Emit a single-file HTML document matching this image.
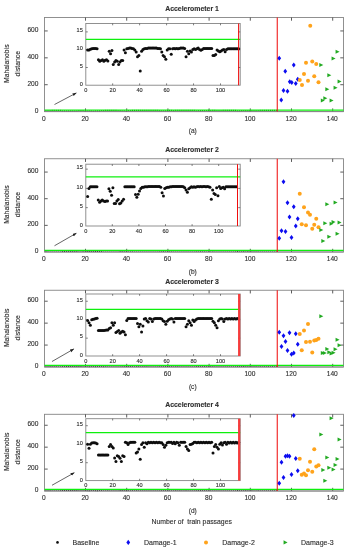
<!DOCTYPE html>
<html lang="en"><head><meta charset="utf-8"><title>Mahalanobis distance per accelerometer</title>
<style>html,body{margin:0;padding:0;background:#fff;}body{width:348px;height:550px;overflow:hidden;}svg{display:block;}text{font-family:"Liberation Sans", sans-serif;fill:#2e2e2e;stroke:#2e2e2e;stroke-width:0.12px;}</style></head><body>
<svg width="348" height="550" viewBox="0 0 348 550">
<defs><marker id="ah" markerWidth="6" markerHeight="6" refX="3.7" refY="1.5" orient="auto" markerUnits="userSpaceOnUse"><path d="M0 0L4.2 1.5L0 3Z" fill="#222"/></marker></defs>
<rect width="348" height="550" fill="#fff"/>
<filter id="soft" x="0" y="0" width="348" height="550" filterUnits="userSpaceOnUse"><feGaussianBlur stdDeviation="0.5"/></filter>
<g filter="url(#soft)">
<g id="row1">
<text x="192" y="11.25" font-size="6.9" font-weight="bold" text-anchor="middle" fill="#111" stroke="none">Accelerometer 1</text>
<rect x="44.5" y="17.5" width="299" height="94.1" fill="#fff" stroke="#858585" stroke-width="0.9"/>
<text x="38.4" y="112.6" font-size="6.6" text-anchor="end">0</text>
<path d="M44.5 84.71h3.2M343.5 84.71h-3.2" stroke="#4a4a4a" stroke-width="0.9"/>
<text x="38.4" y="85.71" font-size="6.6" text-anchor="end">200</text>
<path d="M44.5 57.83h3.2M343.5 57.83h-3.2" stroke="#4a4a4a" stroke-width="0.9"/>
<text x="38.4" y="58.83" font-size="6.6" text-anchor="end">400</text>
<path d="M44.5 30.94h3.2M343.5 30.94h-3.2" stroke="#4a4a4a" stroke-width="0.9"/>
<text x="38.4" y="31.94" font-size="6.6" text-anchor="end">600</text>
<text x="43.9" y="120.5" font-size="6.6" text-anchor="middle">0</text>
<path d="M85.5 17.5v3.2M85.5 111.6v-3.2" stroke="#4a4a4a" stroke-width="0.9"/>
<text x="85.1" y="120.5" font-size="6.6" text-anchor="middle">20</text>
<path d="M126.7 17.5v3.2M126.7 111.6v-3.2" stroke="#4a4a4a" stroke-width="0.9"/>
<text x="126.3" y="120.5" font-size="6.6" text-anchor="middle">40</text>
<path d="M167.9 17.5v3.2M167.9 111.6v-3.2" stroke="#4a4a4a" stroke-width="0.9"/>
<text x="167.5" y="120.5" font-size="6.6" text-anchor="middle">60</text>
<path d="M209.1 17.5v3.2M209.1 111.6v-3.2" stroke="#4a4a4a" stroke-width="0.9"/>
<text x="208.7" y="120.5" font-size="6.6" text-anchor="middle">80</text>
<path d="M250.3 17.5v3.2M250.3 111.6v-3.2" stroke="#4a4a4a" stroke-width="0.9"/>
<text x="249.9" y="120.5" font-size="6.6" text-anchor="middle">100</text>
<path d="M291.5 17.5v3.2M291.5 111.6v-3.2" stroke="#4a4a4a" stroke-width="0.9"/>
<text x="291.1" y="120.5" font-size="6.6" text-anchor="middle">120</text>
<path d="M332.7 17.5v3.2M332.7 111.6v-3.2" stroke="#4a4a4a" stroke-width="0.9"/>
<text x="332.3" y="120.5" font-size="6.6" text-anchor="middle">140</text>
<text transform="translate(9.3 63.75) rotate(-90)" font-size="6.8" text-anchor="middle">Mahalanobis</text>
<text transform="translate(20.2 63.75) rotate(-90)" font-size="6.8" text-anchor="middle">distance</text>
<g fill="#111">
<circle cx="45.96" cy="110.51" r="0.6"/>
<circle cx="48.02" cy="110.51" r="0.6"/>
<circle cx="50.08" cy="110.49" r="0.6"/>
<circle cx="52.14" cy="110.47" r="0.6"/>
<circle cx="54.2" cy="110.46" r="0.6"/>
<circle cx="56.26" cy="110.46" r="0.6"/>
<circle cx="58.32" cy="110.46" r="0.6"/>
<circle cx="60.38" cy="110.47" r="0.6"/>
<circle cx="62.44" cy="110.89" r="0.6"/>
<circle cx="64.5" cy="110.94" r="0.6"/>
<circle cx="66.56" cy="110.92" r="0.6"/>
<circle cx="68.62" cy="110.89" r="0.6"/>
<circle cx="70.68" cy="110.94" r="0.6"/>
<circle cx="72.74" cy="110.9" r="0.6"/>
<circle cx="74.8" cy="110.89" r="0.6"/>
<circle cx="76.86" cy="110.93" r="0.6"/>
<circle cx="78.92" cy="110.57" r="0.6"/>
<circle cx="80.98" cy="110.66" r="0.6"/>
<circle cx="83.04" cy="110.54" r="0.6"/>
<circle cx="85.1" cy="111.06" r="0.6"/>
<circle cx="87.16" cy="110.97" r="0.6"/>
<circle cx="89.22" cy="110.92" r="0.6"/>
<circle cx="91.28" cy="110.94" r="0.6"/>
<circle cx="93.34" cy="111.06" r="0.6"/>
<circle cx="95.4" cy="110.97" r="0.6"/>
<circle cx="97.46" cy="110.92" r="0.6"/>
<circle cx="99.52" cy="110.92" r="0.6"/>
<circle cx="101.58" cy="110.51" r="0.6"/>
<circle cx="103.64" cy="110.62" r="0.6"/>
<circle cx="105.7" cy="110.47" r="0.6"/>
<circle cx="107.76" cy="110.46" r="0.6"/>
<circle cx="109.82" cy="110.45" r="0.6"/>
<circle cx="111.88" cy="110.45" r="0.6"/>
<circle cx="113.94" cy="110.46" r="0.6"/>
<circle cx="116" cy="110.47" r="0.6"/>
<circle cx="118.06" cy="110.51" r="0.6"/>
<circle cx="120.12" cy="110.59" r="0.6"/>
<circle cx="122.18" cy="110.77" r="0.6"/>
<circle cx="124.24" cy="110.73" r="0.6"/>
<circle cx="126.3" cy="111.31" r="0.6"/>
<circle cx="128.36" cy="110.57" r="0.6"/>
<circle cx="130.42" cy="110.5" r="0.6"/>
<circle cx="132.48" cy="110.47" r="0.6"/>
<circle cx="134.54" cy="110.46" r="0.6"/>
<circle cx="136.6" cy="110.46" r="0.6"/>
<circle cx="138.66" cy="110.45" r="0.6"/>
<circle cx="140.72" cy="110.45" r="0.6"/>
<circle cx="142.78" cy="110.45" r="0.6"/>
<circle cx="144.84" cy="110.45" r="0.6"/>
<circle cx="146.9" cy="110.45" r="0.6"/>
<circle cx="148.96" cy="110.45" r="0.6"/>
<circle cx="151.02" cy="110.45" r="0.6"/>
<circle cx="153.08" cy="110.46" r="0.6"/>
<circle cx="155.14" cy="110.46" r="0.6"/>
<circle cx="157.2" cy="110.47" r="0.6"/>
<circle cx="159.26" cy="110.59" r="0.6"/>
<circle cx="161.32" cy="110.73" r="0.6"/>
<circle cx="163.38" cy="110.77" r="0.6"/>
<circle cx="165.44" cy="110.86" r="0.6"/>
<circle cx="167.5" cy="110.51" r="0.6"/>
<circle cx="169.56" cy="110.47" r="0.6"/>
<circle cx="171.62" cy="110.47" r="0.6"/>
<circle cx="173.68" cy="110.67" r="0.6"/>
<circle cx="175.74" cy="110.47" r="0.6"/>
<circle cx="177.8" cy="110.46" r="0.6"/>
<circle cx="179.86" cy="110.47" r="0.6"/>
<circle cx="181.92" cy="110.46" r="0.6"/>
<circle cx="183.98" cy="110.47" r="0.6"/>
<circle cx="186.04" cy="110.46" r="0.6"/>
<circle cx="188.1" cy="110.45" r="0.6"/>
<circle cx="190.16" cy="110.45" r="0.6"/>
<circle cx="192.22" cy="110.45" r="0.6"/>
<circle cx="194.28" cy="110.46" r="0.6"/>
<circle cx="196.34" cy="110.77" r="0.6"/>
<circle cx="198.4" cy="110.57" r="0.6"/>
<circle cx="200.46" cy="110.66" r="0.6"/>
<circle cx="202.52" cy="110.55" r="0.6"/>
<circle cx="204.58" cy="110.59" r="0.6"/>
<circle cx="206.64" cy="110.5" r="0.6"/>
<circle cx="208.7" cy="110.47" r="0.6"/>
<circle cx="210.76" cy="110.5" r="0.6"/>
<circle cx="212.82" cy="110.47" r="0.6"/>
<circle cx="214.88" cy="110.45" r="0.6"/>
<circle cx="216.94" cy="110.5" r="0.6"/>
<circle cx="219" cy="110.53" r="0.6"/>
<circle cx="221.06" cy="110.5" r="0.6"/>
<circle cx="223.12" cy="110.46" r="0.6"/>
<circle cx="225.18" cy="110.46" r="0.6"/>
<circle cx="227.24" cy="110.46" r="0.6"/>
<circle cx="229.3" cy="110.46" r="0.6"/>
<circle cx="231.36" cy="110.46" r="0.6"/>
<circle cx="233.42" cy="110.46" r="0.6"/>
<circle cx="235.48" cy="110.46" r="0.6"/>
<circle cx="237.54" cy="110.73" r="0.6"/>
<circle cx="239.6" cy="110.73" r="0.6"/>
<circle cx="241.66" cy="110.69" r="0.6"/>
<circle cx="243.72" cy="110.51" r="0.6"/>
<circle cx="245.78" cy="110.55" r="0.6"/>
<circle cx="247.84" cy="110.58" r="0.6"/>
<circle cx="249.9" cy="110.55" r="0.6"/>
<circle cx="251.96" cy="110.51" r="0.6"/>
<circle cx="254.02" cy="110.5" r="0.6"/>
<circle cx="256.08" cy="110.58" r="0.6"/>
<circle cx="258.14" cy="110.5" r="0.6"/>
<circle cx="260.2" cy="110.47" r="0.6"/>
<circle cx="262.26" cy="110.47" r="0.6"/>
<circle cx="264.32" cy="110.47" r="0.6"/>
<circle cx="266.38" cy="110.47" r="0.6"/>
<circle cx="268.44" cy="110.47" r="0.6"/>
<circle cx="270.5" cy="110.47" r="0.6"/>
<circle cx="272.56" cy="110.47" r="0.6"/>
<circle cx="274.62" cy="110.47" r="0.6"/>
<circle cx="276.68" cy="110.47" r="0.6"/>
</g>
<path d="M44.5 110.05H343.5" stroke="#10f010" stroke-width="1.25"/>
<path d="M44.5 111.6H343.5" stroke="#858585" stroke-width="0.9"/>
<path d="M277.25 17.5V111.6" stroke="#f01010" stroke-width="1.05"/>
<path d="M279.25 55.65L281.15 58.25L279.25 60.85L277.35 58.25Z" fill="#0a0af0"/>
<path d="M285.25 68.65L287.15 71.25L285.25 73.85L283.35 71.25Z" fill="#0a0af0"/>
<path d="M293.75 62.4L295.65 65L293.75 67.6L291.85 65Z" fill="#0a0af0"/>
<path d="M289.75 79.15L291.65 81.75L289.75 84.35L287.85 81.75Z" fill="#0a0af0"/>
<path d="M291.75 79.9L293.65 82.5L291.75 85.1L289.85 82.5Z" fill="#0a0af0"/>
<path d="M295.75 80.9L297.65 83.5L295.75 86.1L293.85 83.5Z" fill="#0a0af0"/>
<path d="M297.75 76.65L299.65 79.25L297.75 81.85L295.85 79.25Z" fill="#0a0af0"/>
<path d="M283.5 87.9L285.4 90.5L283.5 93.1L281.6 90.5Z" fill="#0a0af0"/>
<path d="M287.5 88.65L289.4 91.25L287.5 93.85L285.6 91.25Z" fill="#0a0af0"/>
<path d="M281.25 97.4L283.15 100L281.25 102.6L279.35 100Z" fill="#0a0af0"/>
<circle cx="310.25" cy="25.75" r="2.0" fill="#ffa31a"/>
<circle cx="306" cy="62.75" r="2.0" fill="#ffa31a"/>
<circle cx="312.25" cy="61.5" r="2.0" fill="#ffa31a"/>
<circle cx="316.25" cy="64" r="2.0" fill="#ffa31a"/>
<circle cx="304" cy="74" r="2.0" fill="#ffa31a"/>
<circle cx="314.25" cy="76.25" r="2.0" fill="#ffa31a"/>
<circle cx="299.75" cy="80" r="2.0" fill="#ffa31a"/>
<circle cx="308" cy="80.75" r="2.0" fill="#ffa31a"/>
<circle cx="302" cy="85" r="2.0" fill="#ffa31a"/>
<circle cx="318.5" cy="82.25" r="2.0" fill="#ffa31a"/>
<path d="M335.55 49.65L339.55 51.75L335.55 53.85Z" fill="#22aa22"/>
<path d="M331.55 56.4L335.55 58.5L331.55 60.6Z" fill="#22aa22"/>
<path d="M319.3 62.9L323.3 65L319.3 67.1Z" fill="#22aa22"/>
<path d="M327.3 73.15L331.3 75.25L327.3 77.35Z" fill="#22aa22"/>
<path d="M337.55 79.4L341.55 81.5L337.55 83.6Z" fill="#22aa22"/>
<path d="M325.3 87.15L329.3 89.25L325.3 91.35Z" fill="#22aa22"/>
<path d="M333.55 85.65L337.55 87.75L333.55 89.85Z" fill="#22aa22"/>
<path d="M323.3 96.15L327.3 98.25L323.3 100.35Z" fill="#22aa22"/>
<path d="M320.8 98.4L324.8 100.5L320.8 102.6Z" fill="#22aa22"/>
<path d="M329.55 98.4L333.55 100.5L329.55 102.6Z" fill="#22aa22"/>
<path d="M54.5 104.5L76.25 93" stroke="#222" stroke-width="0.7" marker-end="url(#ah)"/>
<rect x="85.8" y="23.5" width="154.4" height="61.7" fill="#fff" stroke="#858585" stroke-width="0.9"/>
<text x="82.8" y="85.6" font-size="5.6" text-anchor="end">0</text>
<path d="M85.8 67.5h2M240.2 67.5h-2" stroke="#4a4a4a" stroke-width="0.7"/>
<text x="82.8" y="67.8" font-size="5.6" text-anchor="end">5</text>
<path d="M85.8 49.7h2M240.2 49.7h-2" stroke="#4a4a4a" stroke-width="0.7"/>
<text x="82.8" y="50" font-size="5.6" text-anchor="end">10</text>
<path d="M85.8 31.9h2M240.2 31.9h-2" stroke="#4a4a4a" stroke-width="0.7"/>
<text x="82.8" y="32.2" font-size="5.6" text-anchor="end">15</text>
<text x="85.7" y="91.7" font-size="5.6" text-anchor="middle">0</text>
<path d="M112.66 23.5v1.8M112.66 85.2v-1.8" stroke="#4a4a4a" stroke-width="0.7"/>
<text x="112.66" y="91.7" font-size="5.6" text-anchor="middle">20</text>
<path d="M139.62 23.5v1.8M139.62 85.2v-1.8" stroke="#4a4a4a" stroke-width="0.7"/>
<text x="139.62" y="91.7" font-size="5.6" text-anchor="middle">40</text>
<path d="M166.58 23.5v1.8M166.58 85.2v-1.8" stroke="#4a4a4a" stroke-width="0.7"/>
<text x="166.58" y="91.7" font-size="5.6" text-anchor="middle">60</text>
<path d="M193.54 23.5v1.8M193.54 85.2v-1.8" stroke="#4a4a4a" stroke-width="0.7"/>
<text x="193.54" y="91.7" font-size="5.6" text-anchor="middle">80</text>
<path d="M220.5 23.5v1.8M220.5 85.2v-1.8" stroke="#4a4a4a" stroke-width="0.7"/>
<text x="220.5" y="91.7" font-size="5.6" text-anchor="middle">100</text>
<path d="M85.8 39.3H240.2" stroke="#10f010" stroke-width="1.3"/>
<g fill="#111">
<circle cx="87.65" cy="49.88" r="1.5"/>
<circle cx="89" cy="49.88" r="1.5"/>
<circle cx="90.35" cy="49.17" r="1.5"/>
<circle cx="91.7" cy="48.81" r="1.5"/>
<circle cx="93.05" cy="48.45" r="1.5"/>
<circle cx="94.39" cy="48.45" r="1.5"/>
<circle cx="95.74" cy="48.45" r="1.5"/>
<circle cx="97.09" cy="48.81" r="1.5"/>
<circle cx="98.44" cy="59.85" r="1.5"/>
<circle cx="99.79" cy="61.27" r="1.5"/>
<circle cx="101.13" cy="60.56" r="1.5"/>
<circle cx="102.48" cy="59.85" r="1.5"/>
<circle cx="103.83" cy="61.27" r="1.5"/>
<circle cx="105.18" cy="60.2" r="1.5"/>
<circle cx="106.53" cy="59.85" r="1.5"/>
<circle cx="107.87" cy="60.91" r="1.5"/>
<circle cx="109.22" cy="51.3" r="1.5"/>
<circle cx="110.57" cy="53.79" r="1.5"/>
<circle cx="111.92" cy="50.59" r="1.5"/>
<circle cx="113.27" cy="64.47" r="1.5"/>
<circle cx="114.61" cy="61.98" r="1.5"/>
<circle cx="115.96" cy="60.56" r="1.5"/>
<circle cx="117.31" cy="61.27" r="1.5"/>
<circle cx="118.66" cy="64.47" r="1.5"/>
<circle cx="120.01" cy="61.98" r="1.5"/>
<circle cx="121.35" cy="60.56" r="1.5"/>
<circle cx="122.7" cy="60.56" r="1.5"/>
<circle cx="124.05" cy="49.88" r="1.5"/>
<circle cx="125.4" cy="52.73" r="1.5"/>
<circle cx="126.75" cy="48.81" r="1.5"/>
<circle cx="128.09" cy="48.45" r="1.5"/>
<circle cx="129.44" cy="48.1" r="1.5"/>
<circle cx="130.79" cy="48.1" r="1.5"/>
<circle cx="132.14" cy="48.45" r="1.5"/>
<circle cx="133.49" cy="48.81" r="1.5"/>
<circle cx="134.83" cy="49.88" r="1.5"/>
<circle cx="136.18" cy="52.01" r="1.5"/>
<circle cx="137.53" cy="56.64" r="1.5"/>
<circle cx="138.88" cy="55.57" r="1.5"/>
<circle cx="140.23" cy="70.88" r="1.5"/>
<circle cx="141.57" cy="51.3" r="1.5"/>
<circle cx="142.92" cy="49.52" r="1.5"/>
<circle cx="144.27" cy="48.81" r="1.5"/>
<circle cx="145.62" cy="48.45" r="1.5"/>
<circle cx="146.97" cy="48.45" r="1.5"/>
<circle cx="148.31" cy="48.1" r="1.5"/>
<circle cx="149.66" cy="48.1" r="1.5"/>
<circle cx="151.01" cy="48.1" r="1.5"/>
<circle cx="152.36" cy="48.1" r="1.5"/>
<circle cx="153.71" cy="48.1" r="1.5"/>
<circle cx="155.05" cy="48.1" r="1.5"/>
<circle cx="156.4" cy="48.1" r="1.5"/>
<circle cx="157.75" cy="48.45" r="1.5"/>
<circle cx="159.1" cy="48.45" r="1.5"/>
<circle cx="160.45" cy="48.81" r="1.5"/>
<circle cx="161.79" cy="52.01" r="1.5"/>
<circle cx="163.14" cy="55.57" r="1.5"/>
<circle cx="164.49" cy="56.64" r="1.5"/>
<circle cx="165.84" cy="59.13" r="1.5"/>
<circle cx="167.19" cy="49.88" r="1.5"/>
<circle cx="168.53" cy="48.81" r="1.5"/>
<circle cx="169.88" cy="48.81" r="1.5"/>
<circle cx="171.23" cy="54.15" r="1.5"/>
<circle cx="172.58" cy="48.81" r="1.5"/>
<circle cx="173.93" cy="48.45" r="1.5"/>
<circle cx="175.27" cy="48.81" r="1.5"/>
<circle cx="176.62" cy="48.45" r="1.5"/>
<circle cx="177.97" cy="48.81" r="1.5"/>
<circle cx="179.32" cy="48.45" r="1.5"/>
<circle cx="180.67" cy="48.1" r="1.5"/>
<circle cx="182.01" cy="48.1" r="1.5"/>
<circle cx="183.36" cy="48.1" r="1.5"/>
<circle cx="184.71" cy="48.45" r="1.5"/>
<circle cx="186.06" cy="56.64" r="1.5"/>
<circle cx="187.41" cy="51.3" r="1.5"/>
<circle cx="188.75" cy="53.79" r="1.5"/>
<circle cx="190.1" cy="50.95" r="1.5"/>
<circle cx="191.45" cy="52.01" r="1.5"/>
<circle cx="192.8" cy="49.52" r="1.5"/>
<circle cx="194.15" cy="48.81" r="1.5"/>
<circle cx="195.49" cy="49.52" r="1.5"/>
<circle cx="196.84" cy="48.81" r="1.5"/>
<circle cx="198.19" cy="48.1" r="1.5"/>
<circle cx="199.54" cy="49.52" r="1.5"/>
<circle cx="200.89" cy="50.23" r="1.5"/>
<circle cx="202.23" cy="49.52" r="1.5"/>
<circle cx="203.58" cy="48.45" r="1.5"/>
<circle cx="204.93" cy="48.45" r="1.5"/>
<circle cx="206.28" cy="48.45" r="1.5"/>
<circle cx="207.63" cy="48.45" r="1.5"/>
<circle cx="208.97" cy="48.45" r="1.5"/>
<circle cx="210.32" cy="48.45" r="1.5"/>
<circle cx="211.67" cy="48.45" r="1.5"/>
<circle cx="213.02" cy="55.57" r="1.5"/>
<circle cx="214.37" cy="55.57" r="1.5"/>
<circle cx="215.71" cy="54.51" r="1.5"/>
<circle cx="217.06" cy="49.88" r="1.5"/>
<circle cx="218.41" cy="50.95" r="1.5"/>
<circle cx="219.76" cy="51.66" r="1.5"/>
<circle cx="221.11" cy="50.95" r="1.5"/>
<circle cx="222.45" cy="49.88" r="1.5"/>
<circle cx="223.8" cy="49.52" r="1.5"/>
<circle cx="225.15" cy="51.66" r="1.5"/>
<circle cx="226.5" cy="49.52" r="1.5"/>
<circle cx="227.85" cy="48.81" r="1.5"/>
<circle cx="229.19" cy="48.81" r="1.5"/>
<circle cx="230.54" cy="48.81" r="1.5"/>
<circle cx="231.89" cy="48.81" r="1.5"/>
<circle cx="233.24" cy="48.81" r="1.5"/>
<circle cx="234.59" cy="48.81" r="1.5"/>
<circle cx="235.93" cy="48.81" r="1.5"/>
<circle cx="237.28" cy="48.81" r="1.5"/>
<circle cx="238.63" cy="48.81" r="1.5"/>
</g>
<path d="M238.6 23.5V85.2" stroke="#f01010" stroke-width="1.05"/>
<text x="192.75" y="133.05" font-size="6.6" text-anchor="middle">(a)</text>
</g>
<g id="row2">
<text x="192" y="151.5" font-size="6.9" font-weight="bold" text-anchor="middle" fill="#111" stroke="none">Accelerometer 2</text>
<rect x="44.5" y="158.75" width="299" height="93.25" fill="#fff" stroke="#858585" stroke-width="0.9"/>
<text x="38.4" y="253" font-size="6.6" text-anchor="end">0</text>
<path d="M44.5 225.36h3.2M343.5 225.36h-3.2" stroke="#4a4a4a" stroke-width="0.9"/>
<text x="38.4" y="226.36" font-size="6.6" text-anchor="end">200</text>
<path d="M44.5 198.71h3.2M343.5 198.71h-3.2" stroke="#4a4a4a" stroke-width="0.9"/>
<text x="38.4" y="199.71" font-size="6.6" text-anchor="end">400</text>
<path d="M44.5 172.07h3.2M343.5 172.07h-3.2" stroke="#4a4a4a" stroke-width="0.9"/>
<text x="38.4" y="173.07" font-size="6.6" text-anchor="end">600</text>
<text x="43.9" y="260.9" font-size="6.6" text-anchor="middle">0</text>
<path d="M85.5 158.75v3.2M85.5 252v-3.2" stroke="#4a4a4a" stroke-width="0.9"/>
<text x="85.1" y="260.9" font-size="6.6" text-anchor="middle">20</text>
<path d="M126.7 158.75v3.2M126.7 252v-3.2" stroke="#4a4a4a" stroke-width="0.9"/>
<text x="126.3" y="260.9" font-size="6.6" text-anchor="middle">40</text>
<path d="M167.9 158.75v3.2M167.9 252v-3.2" stroke="#4a4a4a" stroke-width="0.9"/>
<text x="167.5" y="260.9" font-size="6.6" text-anchor="middle">60</text>
<path d="M209.1 158.75v3.2M209.1 252v-3.2" stroke="#4a4a4a" stroke-width="0.9"/>
<text x="208.7" y="260.9" font-size="6.6" text-anchor="middle">80</text>
<path d="M250.3 158.75v3.2M250.3 252v-3.2" stroke="#4a4a4a" stroke-width="0.9"/>
<text x="249.9" y="260.9" font-size="6.6" text-anchor="middle">100</text>
<path d="M291.5 158.75v3.2M291.5 252v-3.2" stroke="#4a4a4a" stroke-width="0.9"/>
<text x="291.1" y="260.9" font-size="6.6" text-anchor="middle">120</text>
<path d="M332.7 158.75v3.2M332.7 252v-3.2" stroke="#4a4a4a" stroke-width="0.9"/>
<text x="332.3" y="260.9" font-size="6.6" text-anchor="middle">140</text>
<text transform="translate(9.3 204.57) rotate(-90)" font-size="6.8" text-anchor="middle">Mahalanobis</text>
<text transform="translate(20.2 204.57) rotate(-90)" font-size="6.8" text-anchor="middle">distance</text>
<g fill="#111">
<circle cx="45.96" cy="251.2" r="0.6"/>
<circle cx="48.02" cy="250.92" r="0.6"/>
<circle cx="50.08" cy="250.86" r="0.6"/>
<circle cx="52.14" cy="250.86" r="0.6"/>
<circle cx="54.2" cy="250.86" r="0.6"/>
<circle cx="56.26" cy="250.86" r="0.6"/>
<circle cx="58.32" cy="250.86" r="0.6"/>
<circle cx="60.38" cy="250.86" r="0.6"/>
<circle cx="62.44" cy="251.32" r="0.6"/>
<circle cx="64.5" cy="251.4" r="0.6"/>
<circle cx="66.56" cy="251.36" r="0.6"/>
<circle cx="68.62" cy="251.32" r="0.6"/>
<circle cx="70.68" cy="251.36" r="0.6"/>
<circle cx="72.74" cy="251.37" r="0.6"/>
<circle cx="74.8" cy="251.36" r="0.6"/>
<circle cx="76.86" cy="251.36" r="0.6"/>
<circle cx="78.92" cy="250.93" r="0.6"/>
<circle cx="80.98" cy="251.02" r="0.6"/>
<circle cx="83.04" cy="251.16" r="0.6"/>
<circle cx="85.1" cy="250.89" r="0.6"/>
<circle cx="87.16" cy="251.44" r="0.6"/>
<circle cx="89.22" cy="251.44" r="0.6"/>
<circle cx="91.28" cy="251.35" r="0.6"/>
<circle cx="93.34" cy="251.3" r="0.6"/>
<circle cx="95.4" cy="251.45" r="0.6"/>
<circle cx="97.46" cy="251.42" r="0.6"/>
<circle cx="99.52" cy="251.35" r="0.6"/>
<circle cx="101.58" cy="251.29" r="0.6"/>
<circle cx="103.64" cy="250.86" r="0.6"/>
<circle cx="105.7" cy="250.86" r="0.6"/>
<circle cx="107.76" cy="250.86" r="0.6"/>
<circle cx="109.82" cy="250.86" r="0.6"/>
<circle cx="111.88" cy="250.86" r="0.6"/>
<circle cx="113.94" cy="250.86" r="0.6"/>
<circle cx="116" cy="250.86" r="0.6"/>
<circle cx="118.06" cy="250.86" r="0.6"/>
<circle cx="120.12" cy="251.13" r="0.6"/>
<circle cx="122.18" cy="251.22" r="0.6"/>
<circle cx="124.24" cy="251.12" r="0.6"/>
<circle cx="126.3" cy="251.01" r="0.6"/>
<circle cx="128.36" cy="250.92" r="0.6"/>
<circle cx="130.42" cy="250.88" r="0.6"/>
<circle cx="132.48" cy="250.88" r="0.6"/>
<circle cx="134.54" cy="250.86" r="0.6"/>
<circle cx="136.6" cy="250.86" r="0.6"/>
<circle cx="138.66" cy="250.86" r="0.6"/>
<circle cx="140.72" cy="250.85" r="0.6"/>
<circle cx="142.78" cy="250.85" r="0.6"/>
<circle cx="144.84" cy="250.85" r="0.6"/>
<circle cx="146.9" cy="250.85" r="0.6"/>
<circle cx="148.96" cy="250.85" r="0.6"/>
<circle cx="151.02" cy="250.85" r="0.6"/>
<circle cx="153.08" cy="250.85" r="0.6"/>
<circle cx="155.14" cy="250.85" r="0.6"/>
<circle cx="157.2" cy="250.85" r="0.6"/>
<circle cx="159.26" cy="250.88" r="0.6"/>
<circle cx="161.32" cy="251.06" r="0.6"/>
<circle cx="163.38" cy="251.18" r="0.6"/>
<circle cx="165.44" cy="250.92" r="0.6"/>
<circle cx="167.5" cy="250.89" r="0.6"/>
<circle cx="169.56" cy="250.88" r="0.6"/>
<circle cx="171.62" cy="250.88" r="0.6"/>
<circle cx="173.68" cy="250.86" r="0.6"/>
<circle cx="175.74" cy="250.86" r="0.6"/>
<circle cx="177.8" cy="250.85" r="0.6"/>
<circle cx="179.86" cy="250.85" r="0.6"/>
<circle cx="181.92" cy="250.85" r="0.6"/>
<circle cx="183.98" cy="250.85" r="0.6"/>
<circle cx="186.04" cy="250.85" r="0.6"/>
<circle cx="188.1" cy="250.85" r="0.6"/>
<circle cx="190.16" cy="250.85" r="0.6"/>
<circle cx="192.22" cy="250.85" r="0.6"/>
<circle cx="194.28" cy="250.86" r="0.6"/>
<circle cx="196.34" cy="250.89" r="0.6"/>
<circle cx="198.4" cy="250.97" r="0.6"/>
<circle cx="200.46" cy="251.05" r="0.6"/>
<circle cx="202.52" cy="250.93" r="0.6"/>
<circle cx="204.58" cy="250.89" r="0.6"/>
<circle cx="206.64" cy="250.86" r="0.6"/>
<circle cx="208.7" cy="250.88" r="0.6"/>
<circle cx="210.76" cy="250.86" r="0.6"/>
<circle cx="212.82" cy="250.88" r="0.6"/>
<circle cx="214.88" cy="250.86" r="0.6"/>
<circle cx="216.94" cy="250.85" r="0.6"/>
<circle cx="219" cy="250.86" r="0.6"/>
<circle cx="221.06" cy="250.85" r="0.6"/>
<circle cx="223.12" cy="250.86" r="0.6"/>
<circle cx="225.18" cy="250.85" r="0.6"/>
<circle cx="227.24" cy="250.85" r="0.6"/>
<circle cx="229.3" cy="250.86" r="0.6"/>
<circle cx="231.36" cy="250.85" r="0.6"/>
<circle cx="233.42" cy="250.86" r="0.6"/>
<circle cx="235.48" cy="250.88" r="0.6"/>
<circle cx="237.54" cy="251.29" r="0.6"/>
<circle cx="239.6" cy="250.97" r="0.6"/>
<circle cx="241.66" cy="251.09" r="0.6"/>
<circle cx="243.72" cy="251.13" r="0.6"/>
<circle cx="245.78" cy="250.89" r="0.6"/>
<circle cx="247.84" cy="251.17" r="0.6"/>
<circle cx="249.9" cy="250.85" r="0.6"/>
<circle cx="251.96" cy="250.92" r="0.6"/>
<circle cx="254.02" cy="250.89" r="0.6"/>
<circle cx="256.08" cy="250.88" r="0.6"/>
<circle cx="258.14" cy="250.93" r="0.6"/>
<circle cx="260.2" cy="250.86" r="0.6"/>
<circle cx="262.26" cy="250.86" r="0.6"/>
<circle cx="264.32" cy="250.86" r="0.6"/>
<circle cx="266.38" cy="250.86" r="0.6"/>
<circle cx="268.44" cy="250.86" r="0.6"/>
<circle cx="270.5" cy="250.86" r="0.6"/>
<circle cx="272.56" cy="250.86" r="0.6"/>
<circle cx="274.62" cy="250.86" r="0.6"/>
<circle cx="276.68" cy="250.86" r="0.6"/>
</g>
<path d="M44.5 250.45H343.5" stroke="#10f010" stroke-width="1.25"/>
<path d="M44.5 252H343.5" stroke="#858585" stroke-width="0.9"/>
<path d="M277.25 158.75V252" stroke="#f01010" stroke-width="1.05"/>
<path d="M279.25 235.65L281.15 238.25L279.25 240.85L277.35 238.25Z" fill="#0a0af0"/>
<path d="M281.5 228.15L283.4 230.75L281.5 233.35L279.6 230.75Z" fill="#0a0af0"/>
<path d="M283.5 179.15L285.4 181.75L283.5 184.35L281.6 181.75Z" fill="#0a0af0"/>
<path d="M285.5 228.9L287.4 231.5L285.5 234.1L283.6 231.5Z" fill="#0a0af0"/>
<path d="M287.5 200.15L289.4 202.75L287.5 205.35L285.6 202.75Z" fill="#0a0af0"/>
<path d="M289.5 214.4L291.4 217L289.5 219.6L287.6 217Z" fill="#0a0af0"/>
<path d="M291.5 234.9L293.4 237.5L291.5 240.1L289.6 237.5Z" fill="#0a0af0"/>
<path d="M293.75 204.15L295.65 206.75L293.75 209.35L291.85 206.75Z" fill="#0a0af0"/>
<path d="M295.75 223.4L297.65 226L295.75 228.6L293.85 226Z" fill="#0a0af0"/>
<path d="M297.75 216.15L299.65 218.75L297.75 221.35L295.85 218.75Z" fill="#0a0af0"/>
<circle cx="299.75" cy="193.75" r="2.0" fill="#ffa31a"/>
<circle cx="301.75" cy="224.25" r="2.0" fill="#ffa31a"/>
<circle cx="304" cy="207.25" r="2.0" fill="#ffa31a"/>
<circle cx="306" cy="225.25" r="2.0" fill="#ffa31a"/>
<circle cx="308" cy="212.5" r="2.0" fill="#ffa31a"/>
<circle cx="310" cy="214.75" r="2.0" fill="#ffa31a"/>
<circle cx="312.25" cy="228.75" r="2.0" fill="#ffa31a"/>
<circle cx="314.25" cy="224.75" r="2.0" fill="#ffa31a"/>
<circle cx="316.25" cy="218.75" r="2.0" fill="#ffa31a"/>
<circle cx="318.5" cy="227.25" r="2.0" fill="#ffa31a"/>
<path d="M319.3 227.9L323.3 230L319.3 232.1Z" fill="#22aa22"/>
<path d="M321.3 238.9L325.3 241L321.3 243.1Z" fill="#22aa22"/>
<path d="M323.3 221.15L327.3 223.25L323.3 225.35Z" fill="#22aa22"/>
<path d="M325.3 202.15L329.3 204.25L325.3 206.35Z" fill="#22aa22"/>
<path d="M327.3 234.65L331.3 236.75L327.3 238.85Z" fill="#22aa22"/>
<path d="M329.55 221.65L333.55 223.75L329.55 225.85Z" fill="#22aa22"/>
<path d="M331.55 219.9L335.55 222L331.55 224.1Z" fill="#22aa22"/>
<path d="M333.55 200.4L337.55 202.5L333.55 204.6Z" fill="#22aa22"/>
<path d="M335.55 231.65L339.55 233.75L335.55 235.85Z" fill="#22aa22"/>
<path d="M337.55 220.4L341.55 222.5L337.55 224.6Z" fill="#22aa22"/>
<path d="M54.5 245.75L76.25 233.25" stroke="#222" stroke-width="0.7" marker-end="url(#ah)"/>
<rect x="85.8" y="164.2" width="154.4" height="61.8" fill="#fff" stroke="#858585" stroke-width="0.9"/>
<text x="82.8" y="227.2" font-size="5.6" text-anchor="end">0</text>
<path d="M85.8 207.65h2M240.2 207.65h-2" stroke="#4a4a4a" stroke-width="0.7"/>
<text x="82.8" y="207.95" font-size="5.6" text-anchor="end">5</text>
<path d="M85.8 188.4h2M240.2 188.4h-2" stroke="#4a4a4a" stroke-width="0.7"/>
<text x="82.8" y="188.7" font-size="5.6" text-anchor="end">10</text>
<path d="M85.8 169.15h2M240.2 169.15h-2" stroke="#4a4a4a" stroke-width="0.7"/>
<text x="82.8" y="169.45" font-size="5.6" text-anchor="end">15</text>
<text x="85.7" y="232.5" font-size="5.6" text-anchor="middle">0</text>
<path d="M112.3 164.2v1.8M112.3 226v-1.8" stroke="#4a4a4a" stroke-width="0.7"/>
<text x="112.3" y="232.5" font-size="5.6" text-anchor="middle">20</text>
<path d="M138.9 164.2v1.8M138.9 226v-1.8" stroke="#4a4a4a" stroke-width="0.7"/>
<text x="138.9" y="232.5" font-size="5.6" text-anchor="middle">40</text>
<path d="M165.5 164.2v1.8M165.5 226v-1.8" stroke="#4a4a4a" stroke-width="0.7"/>
<text x="165.5" y="232.5" font-size="5.6" text-anchor="middle">60</text>
<path d="M192.1 164.2v1.8M192.1 226v-1.8" stroke="#4a4a4a" stroke-width="0.7"/>
<text x="192.1" y="232.5" font-size="5.6" text-anchor="middle">80</text>
<path d="M218.7 164.2v1.8M218.7 226v-1.8" stroke="#4a4a4a" stroke-width="0.7"/>
<text x="218.7" y="232.5" font-size="5.6" text-anchor="middle">100</text>
<path d="M85.8 176.9H240.2" stroke="#10f010" stroke-width="1.3"/>
<g fill="#111">
<circle cx="87.63" cy="196.49" r="1.5"/>
<circle cx="88.96" cy="188.4" r="1.5"/>
<circle cx="90.29" cy="186.86" r="1.5"/>
<circle cx="91.62" cy="186.86" r="1.5"/>
<circle cx="92.95" cy="186.86" r="1.5"/>
<circle cx="94.28" cy="186.86" r="1.5"/>
<circle cx="95.61" cy="186.86" r="1.5"/>
<circle cx="96.94" cy="186.86" r="1.5"/>
<circle cx="98.27" cy="199.95" r="1.5"/>
<circle cx="99.6" cy="202.26" r="1.5"/>
<circle cx="100.93" cy="201.11" r="1.5"/>
<circle cx="102.26" cy="199.95" r="1.5"/>
<circle cx="103.59" cy="201.11" r="1.5"/>
<circle cx="104.92" cy="201.49" r="1.5"/>
<circle cx="106.25" cy="201.11" r="1.5"/>
<circle cx="107.58" cy="201.11" r="1.5"/>
<circle cx="108.91" cy="188.78" r="1.5"/>
<circle cx="110.24" cy="191.29" r="1.5"/>
<circle cx="111.57" cy="195.33" r="1.5"/>
<circle cx="112.9" cy="187.63" r="1.5"/>
<circle cx="114.23" cy="203.42" r="1.5"/>
<circle cx="115.56" cy="203.42" r="1.5"/>
<circle cx="116.89" cy="200.91" r="1.5"/>
<circle cx="118.22" cy="199.56" r="1.5"/>
<circle cx="119.55" cy="203.8" r="1.5"/>
<circle cx="120.88" cy="203.03" r="1.5"/>
<circle cx="122.21" cy="200.91" r="1.5"/>
<circle cx="123.54" cy="199.18" r="1.5"/>
<circle cx="124.87" cy="186.86" r="1.5"/>
<circle cx="126.2" cy="186.86" r="1.5"/>
<circle cx="127.53" cy="186.86" r="1.5"/>
<circle cx="128.86" cy="186.86" r="1.5"/>
<circle cx="130.19" cy="186.86" r="1.5"/>
<circle cx="131.52" cy="186.86" r="1.5"/>
<circle cx="132.85" cy="186.86" r="1.5"/>
<circle cx="134.18" cy="186.86" r="1.5"/>
<circle cx="135.51" cy="194.56" r="1.5"/>
<circle cx="136.84" cy="197.25" r="1.5"/>
<circle cx="138.17" cy="194.18" r="1.5"/>
<circle cx="139.5" cy="191.09" r="1.5"/>
<circle cx="140.83" cy="188.4" r="1.5"/>
<circle cx="142.16" cy="187.25" r="1.5"/>
<circle cx="143.49" cy="187.25" r="1.5"/>
<circle cx="144.82" cy="186.86" r="1.5"/>
<circle cx="146.15" cy="186.86" r="1.5"/>
<circle cx="147.48" cy="186.86" r="1.5"/>
<circle cx="148.81" cy="186.47" r="1.5"/>
<circle cx="150.14" cy="186.47" r="1.5"/>
<circle cx="151.47" cy="186.47" r="1.5"/>
<circle cx="152.8" cy="186.47" r="1.5"/>
<circle cx="154.13" cy="186.47" r="1.5"/>
<circle cx="155.46" cy="186.47" r="1.5"/>
<circle cx="156.79" cy="186.47" r="1.5"/>
<circle cx="158.12" cy="186.47" r="1.5"/>
<circle cx="159.45" cy="186.47" r="1.5"/>
<circle cx="160.78" cy="187.25" r="1.5"/>
<circle cx="162.11" cy="192.63" r="1.5"/>
<circle cx="163.44" cy="196.1" r="1.5"/>
<circle cx="164.77" cy="188.4" r="1.5"/>
<circle cx="166.1" cy="187.63" r="1.5"/>
<circle cx="167.43" cy="187.25" r="1.5"/>
<circle cx="168.76" cy="187.25" r="1.5"/>
<circle cx="170.09" cy="186.86" r="1.5"/>
<circle cx="171.42" cy="186.86" r="1.5"/>
<circle cx="172.75" cy="186.47" r="1.5"/>
<circle cx="174.08" cy="186.47" r="1.5"/>
<circle cx="175.41" cy="186.47" r="1.5"/>
<circle cx="176.74" cy="186.47" r="1.5"/>
<circle cx="178.07" cy="186.47" r="1.5"/>
<circle cx="179.4" cy="186.47" r="1.5"/>
<circle cx="180.73" cy="186.47" r="1.5"/>
<circle cx="182.06" cy="186.47" r="1.5"/>
<circle cx="183.39" cy="186.86" r="1.5"/>
<circle cx="184.72" cy="187.63" r="1.5"/>
<circle cx="186.05" cy="189.94" r="1.5"/>
<circle cx="187.38" cy="192.25" r="1.5"/>
<circle cx="188.71" cy="188.78" r="1.5"/>
<circle cx="190.04" cy="187.63" r="1.5"/>
<circle cx="191.37" cy="186.86" r="1.5"/>
<circle cx="192.7" cy="187.25" r="1.5"/>
<circle cx="194.03" cy="186.86" r="1.5"/>
<circle cx="195.36" cy="187.25" r="1.5"/>
<circle cx="196.69" cy="186.86" r="1.5"/>
<circle cx="198.02" cy="186.47" r="1.5"/>
<circle cx="199.35" cy="186.86" r="1.5"/>
<circle cx="200.68" cy="186.47" r="1.5"/>
<circle cx="202.01" cy="186.86" r="1.5"/>
<circle cx="203.34" cy="186.47" r="1.5"/>
<circle cx="204.67" cy="186.47" r="1.5"/>
<circle cx="206" cy="186.86" r="1.5"/>
<circle cx="207.33" cy="186.47" r="1.5"/>
<circle cx="208.66" cy="186.86" r="1.5"/>
<circle cx="209.99" cy="187.25" r="1.5"/>
<circle cx="211.32" cy="199.18" r="1.5"/>
<circle cx="212.65" cy="189.94" r="1.5"/>
<circle cx="213.98" cy="193.41" r="1.5"/>
<circle cx="215.31" cy="194.56" r="1.5"/>
<circle cx="216.64" cy="187.63" r="1.5"/>
<circle cx="217.97" cy="195.72" r="1.5"/>
<circle cx="219.3" cy="186.47" r="1.5"/>
<circle cx="220.63" cy="188.4" r="1.5"/>
<circle cx="221.96" cy="187.63" r="1.5"/>
<circle cx="223.29" cy="187.25" r="1.5"/>
<circle cx="224.62" cy="188.78" r="1.5"/>
<circle cx="225.95" cy="186.86" r="1.5"/>
<circle cx="227.28" cy="186.86" r="1.5"/>
<circle cx="228.61" cy="186.86" r="1.5"/>
<circle cx="229.94" cy="186.86" r="1.5"/>
<circle cx="231.27" cy="186.86" r="1.5"/>
<circle cx="232.6" cy="186.86" r="1.5"/>
<circle cx="233.93" cy="186.86" r="1.5"/>
<circle cx="235.26" cy="186.86" r="1.5"/>
<circle cx="236.59" cy="186.86" r="1.5"/>
</g>
<path d="M237.5 164.2V226" stroke="#f01010" stroke-width="1.05"/>
<text x="192.75" y="273.8" font-size="6.6" text-anchor="middle">(b)</text>
</g>
<g id="row3">
<text x="192" y="283.5" font-size="6.9" font-weight="bold" text-anchor="middle" fill="#111" stroke="none">Accelerometer 3</text>
<rect x="44.5" y="290.25" width="299" height="76.75" fill="#fff" stroke="#858585" stroke-width="0.9"/>
<text x="38.4" y="368" font-size="6.6" text-anchor="end">0</text>
<path d="M44.5 345.07h3.2M343.5 345.07h-3.2" stroke="#4a4a4a" stroke-width="0.9"/>
<text x="38.4" y="346.07" font-size="6.6" text-anchor="end">200</text>
<path d="M44.5 323.14h3.2M343.5 323.14h-3.2" stroke="#4a4a4a" stroke-width="0.9"/>
<text x="38.4" y="324.14" font-size="6.6" text-anchor="end">400</text>
<path d="M44.5 301.21h3.2M343.5 301.21h-3.2" stroke="#4a4a4a" stroke-width="0.9"/>
<text x="38.4" y="302.21" font-size="6.6" text-anchor="end">600</text>
<text x="43.9" y="375.9" font-size="6.6" text-anchor="middle">0</text>
<path d="M85.5 290.25v3.2M85.5 367v-3.2" stroke="#4a4a4a" stroke-width="0.9"/>
<text x="85.1" y="375.9" font-size="6.6" text-anchor="middle">20</text>
<path d="M126.7 290.25v3.2M126.7 367v-3.2" stroke="#4a4a4a" stroke-width="0.9"/>
<text x="126.3" y="375.9" font-size="6.6" text-anchor="middle">40</text>
<path d="M167.9 290.25v3.2M167.9 367v-3.2" stroke="#4a4a4a" stroke-width="0.9"/>
<text x="167.5" y="375.9" font-size="6.6" text-anchor="middle">60</text>
<path d="M209.1 290.25v3.2M209.1 367v-3.2" stroke="#4a4a4a" stroke-width="0.9"/>
<text x="208.7" y="375.9" font-size="6.6" text-anchor="middle">80</text>
<path d="M250.3 290.25v3.2M250.3 367v-3.2" stroke="#4a4a4a" stroke-width="0.9"/>
<text x="249.9" y="375.9" font-size="6.6" text-anchor="middle">100</text>
<path d="M291.5 290.25v3.2M291.5 367v-3.2" stroke="#4a4a4a" stroke-width="0.9"/>
<text x="291.1" y="375.9" font-size="6.6" text-anchor="middle">120</text>
<path d="M332.7 290.25v3.2M332.7 367v-3.2" stroke="#4a4a4a" stroke-width="0.9"/>
<text x="332.3" y="375.9" font-size="6.6" text-anchor="middle">140</text>
<text transform="translate(9.3 327.82) rotate(-90)" font-size="6.8" text-anchor="middle">Mahalanobis</text>
<text transform="translate(20.2 327.82) rotate(-90)" font-size="6.8" text-anchor="middle">distance</text>
<g fill="#111">
<circle cx="45.96" cy="366.18" r="0.6"/>
<circle cx="48.02" cy="366.24" r="0.6"/>
<circle cx="50.08" cy="366.32" r="0.6"/>
<circle cx="52.14" cy="366.15" r="0.6"/>
<circle cx="54.2" cy="366.14" r="0.6"/>
<circle cx="56.26" cy="366.13" r="0.6"/>
<circle cx="58.32" cy="366.12" r="0.6"/>
<circle cx="60.38" cy="366.11" r="0.6"/>
<circle cx="62.44" cy="366.48" r="0.6"/>
<circle cx="64.5" cy="366.48" r="0.6"/>
<circle cx="66.56" cy="366.47" r="0.6"/>
<circle cx="68.62" cy="366.47" r="0.6"/>
<circle cx="70.68" cy="366.47" r="0.6"/>
<circle cx="72.74" cy="366.47" r="0.6"/>
<circle cx="74.8" cy="366.46" r="0.6"/>
<circle cx="76.86" cy="366.46" r="0.6"/>
<circle cx="78.92" cy="366.42" r="0.6"/>
<circle cx="80.98" cy="366.39" r="0.6"/>
<circle cx="83.04" cy="366.24" r="0.6"/>
<circle cx="85.1" cy="366.32" r="0.6"/>
<circle cx="87.16" cy="366.24" r="0.6"/>
<circle cx="89.22" cy="366.54" r="0.6"/>
<circle cx="91.28" cy="366.5" r="0.6"/>
<circle cx="93.34" cy="366.48" r="0.6"/>
<circle cx="95.4" cy="366.56" r="0.6"/>
<circle cx="97.46" cy="366.52" r="0.6"/>
<circle cx="99.52" cy="366.49" r="0.6"/>
<circle cx="101.58" cy="366.52" r="0.6"/>
<circle cx="103.64" cy="366.6" r="0.6"/>
<circle cx="105.7" cy="366.18" r="0.6"/>
<circle cx="107.76" cy="366.12" r="0.6"/>
<circle cx="109.82" cy="366.12" r="0.6"/>
<circle cx="111.88" cy="366.12" r="0.6"/>
<circle cx="113.94" cy="366.12" r="0.6"/>
<circle cx="116" cy="366.12" r="0.6"/>
<circle cx="118.06" cy="366.12" r="0.6"/>
<circle cx="120.12" cy="366.12" r="0.6"/>
<circle cx="122.18" cy="366.26" r="0.6"/>
<circle cx="124.24" cy="366.36" r="0.6"/>
<circle cx="126.3" cy="366.29" r="0.6"/>
<circle cx="128.36" cy="366.52" r="0.6"/>
<circle cx="130.42" cy="366.34" r="0.6"/>
<circle cx="132.48" cy="366.13" r="0.6"/>
<circle cx="134.54" cy="366.12" r="0.6"/>
<circle cx="136.6" cy="366.19" r="0.6"/>
<circle cx="138.66" cy="366.22" r="0.6"/>
<circle cx="140.72" cy="366.12" r="0.6"/>
<circle cx="142.78" cy="366.13" r="0.6"/>
<circle cx="144.84" cy="366.21" r="0.6"/>
<circle cx="146.9" cy="366.13" r="0.6"/>
<circle cx="148.96" cy="366.12" r="0.6"/>
<circle cx="151.02" cy="366.12" r="0.6"/>
<circle cx="153.08" cy="366.12" r="0.6"/>
<circle cx="155.14" cy="366.12" r="0.6"/>
<circle cx="157.2" cy="366.12" r="0.6"/>
<circle cx="159.26" cy="366.13" r="0.6"/>
<circle cx="161.32" cy="366.19" r="0.6"/>
<circle cx="163.38" cy="366.21" r="0.6"/>
<circle cx="165.44" cy="366.29" r="0.6"/>
<circle cx="167.5" cy="366.2" r="0.6"/>
<circle cx="169.56" cy="366.15" r="0.6"/>
<circle cx="171.62" cy="366.13" r="0.6"/>
<circle cx="173.68" cy="366.12" r="0.6"/>
<circle cx="175.74" cy="366.13" r="0.6"/>
<circle cx="177.8" cy="366.22" r="0.6"/>
<circle cx="179.86" cy="366.12" r="0.6"/>
<circle cx="181.92" cy="366.12" r="0.6"/>
<circle cx="183.98" cy="366.12" r="0.6"/>
<circle cx="186.04" cy="366.12" r="0.6"/>
<circle cx="188.1" cy="366.12" r="0.6"/>
<circle cx="190.16" cy="366.12" r="0.6"/>
<circle cx="192.22" cy="366.12" r="0.6"/>
<circle cx="194.28" cy="366.12" r="0.6"/>
<circle cx="196.34" cy="366.36" r="0.6"/>
<circle cx="198.4" cy="366.29" r="0.6"/>
<circle cx="200.46" cy="366.19" r="0.6"/>
<circle cx="202.52" cy="366.24" r="0.6"/>
<circle cx="204.58" cy="366.32" r="0.6"/>
<circle cx="206.64" cy="366.16" r="0.6"/>
<circle cx="208.7" cy="366.21" r="0.6"/>
<circle cx="210.76" cy="366.16" r="0.6"/>
<circle cx="212.82" cy="366.13" r="0.6"/>
<circle cx="214.88" cy="366.12" r="0.6"/>
<circle cx="216.94" cy="366.12" r="0.6"/>
<circle cx="219" cy="366.12" r="0.6"/>
<circle cx="221.06" cy="366.12" r="0.6"/>
<circle cx="223.12" cy="366.12" r="0.6"/>
<circle cx="225.18" cy="366.12" r="0.6"/>
<circle cx="227.24" cy="366.12" r="0.6"/>
<circle cx="229.3" cy="366.12" r="0.6"/>
<circle cx="231.36" cy="366.12" r="0.6"/>
<circle cx="233.42" cy="366.12" r="0.6"/>
<circle cx="235.48" cy="366.12" r="0.6"/>
<circle cx="237.54" cy="366.2" r="0.6"/>
<circle cx="239.6" cy="366.24" r="0.6"/>
<circle cx="241.66" cy="366.32" r="0.6"/>
<circle cx="243.72" cy="366.39" r="0.6"/>
<circle cx="245.78" cy="366.19" r="0.6"/>
<circle cx="247.84" cy="366.13" r="0.6"/>
<circle cx="249.9" cy="366.12" r="0.6"/>
<circle cx="251.96" cy="366.13" r="0.6"/>
<circle cx="254.02" cy="366.21" r="0.6"/>
<circle cx="256.08" cy="366.13" r="0.6"/>
<circle cx="258.14" cy="366.12" r="0.6"/>
<circle cx="260.2" cy="366.13" r="0.6"/>
<circle cx="262.26" cy="366.12" r="0.6"/>
<circle cx="264.32" cy="366.13" r="0.6"/>
<circle cx="266.38" cy="366.12" r="0.6"/>
<circle cx="268.44" cy="366.13" r="0.6"/>
<circle cx="270.5" cy="366.12" r="0.6"/>
<circle cx="272.56" cy="366.13" r="0.6"/>
<circle cx="274.62" cy="366.12" r="0.6"/>
<circle cx="276.68" cy="366.13" r="0.6"/>
</g>
<path d="M44.5 365.45H343.5" stroke="#10f010" stroke-width="1.25"/>
<path d="M44.5 367H343.5" stroke="#858585" stroke-width="0.9"/>
<path d="M277.25 290.25V367" stroke="#f01010" stroke-width="1.05"/>
<path d="M279.25 329.65L281.15 332.25L279.25 334.85L277.35 332.25Z" fill="#0a0af0"/>
<path d="M281.5 343.9L283.4 346.5L281.5 349.1L279.6 346.5Z" fill="#0a0af0"/>
<path d="M283.5 333.15L285.4 335.75L283.5 338.35L281.6 335.75Z" fill="#0a0af0"/>
<path d="M285.5 338.9L287.4 341.5L285.5 344.1L283.6 341.5Z" fill="#0a0af0"/>
<path d="M287.5 347.9L289.4 350.5L287.5 353.1L285.6 350.5Z" fill="#0a0af0"/>
<path d="M289.5 330.15L291.4 332.75L289.5 335.35L287.6 332.75Z" fill="#0a0af0"/>
<path d="M291.5 351.65L293.4 354.25L291.5 356.85L289.6 354.25Z" fill="#0a0af0"/>
<path d="M293.75 350.4L295.65 353L293.75 355.6L291.85 353Z" fill="#0a0af0"/>
<path d="M295.75 331.15L297.65 333.75L295.75 336.35L293.85 333.75Z" fill="#0a0af0"/>
<path d="M297.75 341.65L299.65 344.25L297.75 346.85L295.85 344.25Z" fill="#0a0af0"/>
<circle cx="299.75" cy="334" r="2.0" fill="#ffa31a"/>
<circle cx="301.75" cy="350.25" r="2.0" fill="#ffa31a"/>
<circle cx="304" cy="330.5" r="2.0" fill="#ffa31a"/>
<circle cx="306" cy="342" r="2.0" fill="#ffa31a"/>
<circle cx="308" cy="324" r="2.0" fill="#ffa31a"/>
<circle cx="310" cy="341.75" r="2.0" fill="#ffa31a"/>
<circle cx="312.25" cy="352.5" r="2.0" fill="#ffa31a"/>
<circle cx="314.25" cy="340.5" r="2.0" fill="#ffa31a"/>
<circle cx="316.25" cy="340" r="2.0" fill="#ffa31a"/>
<circle cx="318.5" cy="338.75" r="2.0" fill="#ffa31a"/>
<path d="M319.3 314.15L323.3 316.25L319.3 318.35Z" fill="#22aa22"/>
<path d="M320.8 350.9L324.8 353L320.8 355.1Z" fill="#22aa22"/>
<path d="M322.8 350.9L326.8 353L322.8 355.1Z" fill="#22aa22"/>
<path d="M325.3 346.9L329.3 349L325.3 351.1Z" fill="#22aa22"/>
<path d="M327.3 350.15L331.3 352.25L327.3 354.35Z" fill="#22aa22"/>
<path d="M329.55 351.4L333.55 353.5L329.55 355.6Z" fill="#22aa22"/>
<path d="M331.55 350.65L335.55 352.75L331.55 354.85Z" fill="#22aa22"/>
<path d="M333.55 347.15L337.55 349.25L333.55 351.35Z" fill="#22aa22"/>
<path d="M335.55 337.65L339.55 339.75L335.55 341.85Z" fill="#22aa22"/>
<path d="M337.55 343.15L341.55 345.25L337.55 347.35Z" fill="#22aa22"/>
<path d="M52 361.5L73.75 349" stroke="#222" stroke-width="0.7" marker-end="url(#ah)"/>
<rect x="85.8" y="294" width="154.4" height="62" fill="#fff" stroke="#858585" stroke-width="0.9"/>
<text x="82.8" y="356.9" font-size="5.6" text-anchor="end">0</text>
<path d="M85.8 338.15h2M240.2 338.15h-2" stroke="#4a4a4a" stroke-width="0.7"/>
<text x="82.8" y="338.45" font-size="5.6" text-anchor="end">5</text>
<path d="M85.8 319.7h2M240.2 319.7h-2" stroke="#4a4a4a" stroke-width="0.7"/>
<text x="82.8" y="320" font-size="5.6" text-anchor="end">10</text>
<path d="M85.8 301.25h2M240.2 301.25h-2" stroke="#4a4a4a" stroke-width="0.7"/>
<text x="82.8" y="301.55" font-size="5.6" text-anchor="end">15</text>
<text x="85.7" y="362.5" font-size="5.6" text-anchor="middle">0</text>
<path d="M112.66 294v1.8M112.66 356v-1.8" stroke="#4a4a4a" stroke-width="0.7"/>
<text x="112.66" y="362.5" font-size="5.6" text-anchor="middle">20</text>
<path d="M139.62 294v1.8M139.62 356v-1.8" stroke="#4a4a4a" stroke-width="0.7"/>
<text x="139.62" y="362.5" font-size="5.6" text-anchor="middle">40</text>
<path d="M166.58 294v1.8M166.58 356v-1.8" stroke="#4a4a4a" stroke-width="0.7"/>
<text x="166.58" y="362.5" font-size="5.6" text-anchor="middle">60</text>
<path d="M193.54 294v1.8M193.54 356v-1.8" stroke="#4a4a4a" stroke-width="0.7"/>
<text x="193.54" y="362.5" font-size="5.6" text-anchor="middle">80</text>
<path d="M220.5 294v1.8M220.5 356v-1.8" stroke="#4a4a4a" stroke-width="0.7"/>
<text x="220.5" y="362.5" font-size="5.6" text-anchor="middle">100</text>
<path d="M85.8 309.3H240.2" stroke="#10f010" stroke-width="1.3"/>
<g fill="#111">
<circle cx="87.65" cy="320.44" r="1.5"/>
<circle cx="89" cy="322.65" r="1.5"/>
<circle cx="90.35" cy="325.24" r="1.5"/>
<circle cx="91.7" cy="319.7" r="1.5"/>
<circle cx="93.05" cy="319.33" r="1.5"/>
<circle cx="94.39" cy="318.96" r="1.5"/>
<circle cx="95.74" cy="318.59" r="1.5"/>
<circle cx="97.09" cy="318.22" r="1.5"/>
<circle cx="98.44" cy="330.59" r="1.5"/>
<circle cx="99.79" cy="330.59" r="1.5"/>
<circle cx="101.13" cy="330.4" r="1.5"/>
<circle cx="102.48" cy="330.4" r="1.5"/>
<circle cx="103.83" cy="330.4" r="1.5"/>
<circle cx="105.18" cy="330.22" r="1.5"/>
<circle cx="106.53" cy="330.03" r="1.5"/>
<circle cx="107.87" cy="330.03" r="1.5"/>
<circle cx="109.22" cy="328.56" r="1.5"/>
<circle cx="110.57" cy="327.82" r="1.5"/>
<circle cx="111.92" cy="322.65" r="1.5"/>
<circle cx="113.27" cy="325.24" r="1.5"/>
<circle cx="114.61" cy="322.65" r="1.5"/>
<circle cx="115.96" cy="332.62" r="1.5"/>
<circle cx="117.31" cy="331.51" r="1.5"/>
<circle cx="118.66" cy="330.59" r="1.5"/>
<circle cx="120.01" cy="333.35" r="1.5"/>
<circle cx="121.35" cy="331.88" r="1.5"/>
<circle cx="122.7" cy="331.14" r="1.5"/>
<circle cx="124.05" cy="331.88" r="1.5"/>
<circle cx="125.4" cy="334.83" r="1.5"/>
<circle cx="126.75" cy="320.44" r="1.5"/>
<circle cx="128.09" cy="318.59" r="1.5"/>
<circle cx="129.44" cy="318.59" r="1.5"/>
<circle cx="130.79" cy="318.59" r="1.5"/>
<circle cx="132.14" cy="318.59" r="1.5"/>
<circle cx="133.49" cy="318.59" r="1.5"/>
<circle cx="134.83" cy="318.59" r="1.5"/>
<circle cx="136.18" cy="318.59" r="1.5"/>
<circle cx="137.53" cy="323.39" r="1.5"/>
<circle cx="138.88" cy="326.71" r="1.5"/>
<circle cx="140.23" cy="324.13" r="1.5"/>
<circle cx="141.57" cy="331.88" r="1.5"/>
<circle cx="142.92" cy="325.97" r="1.5"/>
<circle cx="144.27" cy="318.96" r="1.5"/>
<circle cx="145.62" cy="318.59" r="1.5"/>
<circle cx="146.97" cy="320.81" r="1.5"/>
<circle cx="148.31" cy="321.91" r="1.5"/>
<circle cx="149.66" cy="318.59" r="1.5"/>
<circle cx="151.01" cy="318.96" r="1.5"/>
<circle cx="152.36" cy="321.55" r="1.5"/>
<circle cx="153.71" cy="318.96" r="1.5"/>
<circle cx="155.05" cy="318.59" r="1.5"/>
<circle cx="156.4" cy="318.59" r="1.5"/>
<circle cx="157.75" cy="318.59" r="1.5"/>
<circle cx="159.1" cy="318.59" r="1.5"/>
<circle cx="160.45" cy="318.59" r="1.5"/>
<circle cx="161.79" cy="318.96" r="1.5"/>
<circle cx="163.14" cy="320.81" r="1.5"/>
<circle cx="164.49" cy="321.55" r="1.5"/>
<circle cx="165.84" cy="324.13" r="1.5"/>
<circle cx="167.19" cy="321.18" r="1.5"/>
<circle cx="168.53" cy="319.7" r="1.5"/>
<circle cx="169.88" cy="318.96" r="1.5"/>
<circle cx="171.23" cy="318.59" r="1.5"/>
<circle cx="172.58" cy="318.96" r="1.5"/>
<circle cx="173.93" cy="321.91" r="1.5"/>
<circle cx="175.27" cy="318.59" r="1.5"/>
<circle cx="176.62" cy="318.59" r="1.5"/>
<circle cx="177.97" cy="318.59" r="1.5"/>
<circle cx="179.32" cy="318.59" r="1.5"/>
<circle cx="180.67" cy="318.59" r="1.5"/>
<circle cx="182.01" cy="318.59" r="1.5"/>
<circle cx="183.36" cy="318.59" r="1.5"/>
<circle cx="184.71" cy="318.59" r="1.5"/>
<circle cx="186.06" cy="326.71" r="1.5"/>
<circle cx="187.41" cy="324.13" r="1.5"/>
<circle cx="188.75" cy="320.81" r="1.5"/>
<circle cx="190.1" cy="322.65" r="1.5"/>
<circle cx="191.45" cy="325.24" r="1.5"/>
<circle cx="192.8" cy="320.07" r="1.5"/>
<circle cx="194.15" cy="321.55" r="1.5"/>
<circle cx="195.49" cy="320.07" r="1.5"/>
<circle cx="196.84" cy="318.96" r="1.5"/>
<circle cx="198.19" cy="318.59" r="1.5"/>
<circle cx="199.54" cy="318.59" r="1.5"/>
<circle cx="200.89" cy="318.59" r="1.5"/>
<circle cx="202.23" cy="318.59" r="1.5"/>
<circle cx="203.58" cy="318.59" r="1.5"/>
<circle cx="204.93" cy="318.59" r="1.5"/>
<circle cx="206.28" cy="318.59" r="1.5"/>
<circle cx="207.63" cy="318.59" r="1.5"/>
<circle cx="208.97" cy="318.59" r="1.5"/>
<circle cx="210.32" cy="318.59" r="1.5"/>
<circle cx="211.67" cy="318.59" r="1.5"/>
<circle cx="213.02" cy="321.18" r="1.5"/>
<circle cx="214.37" cy="322.65" r="1.5"/>
<circle cx="215.71" cy="325.24" r="1.5"/>
<circle cx="217.06" cy="327.82" r="1.5"/>
<circle cx="218.41" cy="320.81" r="1.5"/>
<circle cx="219.76" cy="318.96" r="1.5"/>
<circle cx="221.11" cy="318.59" r="1.5"/>
<circle cx="222.45" cy="318.96" r="1.5"/>
<circle cx="223.8" cy="321.55" r="1.5"/>
<circle cx="225.15" cy="318.96" r="1.5"/>
<circle cx="226.5" cy="318.59" r="1.5"/>
<circle cx="227.85" cy="318.96" r="1.5"/>
<circle cx="229.19" cy="318.59" r="1.5"/>
<circle cx="230.54" cy="318.96" r="1.5"/>
<circle cx="231.89" cy="318.59" r="1.5"/>
<circle cx="233.24" cy="318.96" r="1.5"/>
<circle cx="234.59" cy="318.59" r="1.5"/>
<circle cx="235.93" cy="318.96" r="1.5"/>
<circle cx="237.28" cy="318.59" r="1.5"/>
<circle cx="238.63" cy="318.96" r="1.5"/>
</g>
<path d="M239.15 294V356" stroke="#f63a3a" stroke-width="2.2"/>
<text x="192.75" y="389.3" font-size="6.6" text-anchor="middle">(c)</text>
</g>
<g id="row4">
<text x="192" y="407.25" font-size="6.9" font-weight="bold" text-anchor="middle" fill="#111" stroke="none">Accelerometer 4</text>
<rect x="44.5" y="414.3" width="299" height="76.7" fill="#fff" stroke="#858585" stroke-width="0.9"/>
<text x="38.4" y="492" font-size="6.6" text-anchor="end">0</text>
<path d="M44.5 469.09h3.2M343.5 469.09h-3.2" stroke="#4a4a4a" stroke-width="0.9"/>
<text x="38.4" y="470.09" font-size="6.6" text-anchor="end">200</text>
<path d="M44.5 447.17h3.2M343.5 447.17h-3.2" stroke="#4a4a4a" stroke-width="0.9"/>
<text x="38.4" y="448.17" font-size="6.6" text-anchor="end">400</text>
<path d="M44.5 425.26h3.2M343.5 425.26h-3.2" stroke="#4a4a4a" stroke-width="0.9"/>
<text x="38.4" y="426.26" font-size="6.6" text-anchor="end">600</text>
<text x="43.9" y="499.9" font-size="6.6" text-anchor="middle">0</text>
<path d="M85.5 414.3v3.2M85.5 491v-3.2" stroke="#4a4a4a" stroke-width="0.9"/>
<text x="85.1" y="499.9" font-size="6.6" text-anchor="middle">20</text>
<path d="M126.7 414.3v3.2M126.7 491v-3.2" stroke="#4a4a4a" stroke-width="0.9"/>
<text x="126.3" y="499.9" font-size="6.6" text-anchor="middle">40</text>
<path d="M167.9 414.3v3.2M167.9 491v-3.2" stroke="#4a4a4a" stroke-width="0.9"/>
<text x="167.5" y="499.9" font-size="6.6" text-anchor="middle">60</text>
<path d="M209.1 414.3v3.2M209.1 491v-3.2" stroke="#4a4a4a" stroke-width="0.9"/>
<text x="208.7" y="499.9" font-size="6.6" text-anchor="middle">80</text>
<path d="M250.3 414.3v3.2M250.3 491v-3.2" stroke="#4a4a4a" stroke-width="0.9"/>
<text x="249.9" y="499.9" font-size="6.6" text-anchor="middle">100</text>
<path d="M291.5 414.3v3.2M291.5 491v-3.2" stroke="#4a4a4a" stroke-width="0.9"/>
<text x="291.1" y="499.9" font-size="6.6" text-anchor="middle">120</text>
<path d="M332.7 414.3v3.2M332.7 491v-3.2" stroke="#4a4a4a" stroke-width="0.9"/>
<text x="332.3" y="499.9" font-size="6.6" text-anchor="middle">140</text>
<text transform="translate(9.3 451.85) rotate(-90)" font-size="6.8" text-anchor="middle">Mahalanobis</text>
<text transform="translate(20.2 451.85) rotate(-90)" font-size="6.8" text-anchor="middle">distance</text>
<g fill="#111">
<circle cx="45.96" cy="490.15" r="0.6"/>
<circle cx="48.02" cy="490.27" r="0.6"/>
<circle cx="50.08" cy="490.15" r="0.6"/>
<circle cx="52.14" cy="490.12" r="0.6"/>
<circle cx="54.2" cy="490.11" r="0.6"/>
<circle cx="56.26" cy="490.11" r="0.6"/>
<circle cx="58.32" cy="490.12" r="0.6"/>
<circle cx="60.38" cy="490.14" r="0.6"/>
<circle cx="62.44" cy="490.47" r="0.6"/>
<circle cx="64.5" cy="490.47" r="0.6"/>
<circle cx="66.56" cy="490.47" r="0.6"/>
<circle cx="68.62" cy="490.47" r="0.6"/>
<circle cx="70.68" cy="490.47" r="0.6"/>
<circle cx="72.74" cy="490.47" r="0.6"/>
<circle cx="74.8" cy="490.47" r="0.6"/>
<circle cx="76.86" cy="490.47" r="0.6"/>
<circle cx="78.92" cy="490.22" r="0.6"/>
<circle cx="80.98" cy="490.17" r="0.6"/>
<circle cx="83.04" cy="490.22" r="0.6"/>
<circle cx="85.1" cy="490.26" r="0.6"/>
<circle cx="87.16" cy="490.56" r="0.6"/>
<circle cx="89.22" cy="490.67" r="0.6"/>
<circle cx="91.28" cy="490.49" r="0.6"/>
<circle cx="93.34" cy="490.52" r="0.6"/>
<circle cx="95.4" cy="490.57" r="0.6"/>
<circle cx="97.46" cy="490.67" r="0.6"/>
<circle cx="99.52" cy="490.49" r="0.6"/>
<circle cx="101.58" cy="490.52" r="0.6"/>
<circle cx="103.64" cy="490.1" r="0.6"/>
<circle cx="105.7" cy="490.11" r="0.6"/>
<circle cx="107.76" cy="490.17" r="0.6"/>
<circle cx="109.82" cy="490.11" r="0.6"/>
<circle cx="111.88" cy="490.1" r="0.6"/>
<circle cx="113.94" cy="490.1" r="0.6"/>
<circle cx="116" cy="490.1" r="0.6"/>
<circle cx="118.06" cy="490.1" r="0.6"/>
<circle cx="120.12" cy="490.42" r="0.6"/>
<circle cx="122.18" cy="490.38" r="0.6"/>
<circle cx="124.24" cy="490.3" r="0.6"/>
<circle cx="126.3" cy="490.6" r="0.6"/>
<circle cx="128.36" cy="490.17" r="0.6"/>
<circle cx="130.42" cy="490.11" r="0.6"/>
<circle cx="132.48" cy="490.24" r="0.6"/>
<circle cx="134.54" cy="490.11" r="0.6"/>
<circle cx="136.6" cy="490.14" r="0.6"/>
<circle cx="138.66" cy="490.1" r="0.6"/>
<circle cx="140.72" cy="490.11" r="0.6"/>
<circle cx="142.78" cy="490.1" r="0.6"/>
<circle cx="144.84" cy="490.11" r="0.6"/>
<circle cx="146.9" cy="490.1" r="0.6"/>
<circle cx="148.96" cy="490.11" r="0.6"/>
<circle cx="151.02" cy="490.1" r="0.6"/>
<circle cx="153.08" cy="490.11" r="0.6"/>
<circle cx="155.14" cy="490.1" r="0.6"/>
<circle cx="157.2" cy="490.11" r="0.6"/>
<circle cx="159.26" cy="490.11" r="0.6"/>
<circle cx="161.32" cy="490.17" r="0.6"/>
<circle cx="163.38" cy="490.24" r="0.6"/>
<circle cx="165.44" cy="490.19" r="0.6"/>
<circle cx="167.5" cy="490.11" r="0.6"/>
<circle cx="169.56" cy="490.1" r="0.6"/>
<circle cx="171.62" cy="490.1" r="0.6"/>
<circle cx="173.68" cy="490.1" r="0.6"/>
<circle cx="175.74" cy="490.13" r="0.6"/>
<circle cx="177.8" cy="490.1" r="0.6"/>
<circle cx="179.86" cy="490.14" r="0.6"/>
<circle cx="181.92" cy="490.1" r="0.6"/>
<circle cx="183.98" cy="490.11" r="0.6"/>
<circle cx="186.04" cy="490.19" r="0.6"/>
<circle cx="188.1" cy="490.1" r="0.6"/>
<circle cx="190.16" cy="490.1" r="0.6"/>
<circle cx="192.22" cy="490.1" r="0.6"/>
<circle cx="194.28" cy="490.1" r="0.6"/>
<circle cx="196.34" cy="490.22" r="0.6"/>
<circle cx="198.4" cy="490.3" r="0.6"/>
<circle cx="200.46" cy="490.34" r="0.6"/>
<circle cx="202.52" cy="490.17" r="0.6"/>
<circle cx="204.58" cy="490.15" r="0.6"/>
<circle cx="206.64" cy="490.13" r="0.6"/>
<circle cx="208.7" cy="490.1" r="0.6"/>
<circle cx="210.76" cy="490.1" r="0.6"/>
<circle cx="212.82" cy="490.11" r="0.6"/>
<circle cx="214.88" cy="490.1" r="0.6"/>
<circle cx="216.94" cy="490.11" r="0.6"/>
<circle cx="219" cy="490.1" r="0.6"/>
<circle cx="221.06" cy="490.11" r="0.6"/>
<circle cx="223.12" cy="490.1" r="0.6"/>
<circle cx="225.18" cy="490.11" r="0.6"/>
<circle cx="227.24" cy="490.1" r="0.6"/>
<circle cx="229.3" cy="490.11" r="0.6"/>
<circle cx="231.36" cy="490.1" r="0.6"/>
<circle cx="233.42" cy="490.11" r="0.6"/>
<circle cx="235.48" cy="490.1" r="0.6"/>
<circle cx="237.54" cy="490.42" r="0.6"/>
<circle cx="239.6" cy="490.22" r="0.6"/>
<circle cx="241.66" cy="490.17" r="0.6"/>
<circle cx="243.72" cy="490.24" r="0.6"/>
<circle cx="245.78" cy="490.3" r="0.6"/>
<circle cx="247.84" cy="490.15" r="0.6"/>
<circle cx="249.9" cy="490.11" r="0.6"/>
<circle cx="251.96" cy="490.18" r="0.6"/>
<circle cx="254.02" cy="490.11" r="0.6"/>
<circle cx="256.08" cy="490.1" r="0.6"/>
<circle cx="258.14" cy="490.15" r="0.6"/>
<circle cx="260.2" cy="490.1" r="0.6"/>
<circle cx="262.26" cy="490.12" r="0.6"/>
<circle cx="264.32" cy="490.1" r="0.6"/>
<circle cx="266.38" cy="490.12" r="0.6"/>
<circle cx="268.44" cy="490.1" r="0.6"/>
<circle cx="270.5" cy="490.12" r="0.6"/>
<circle cx="272.56" cy="490.1" r="0.6"/>
<circle cx="274.62" cy="490.12" r="0.6"/>
<circle cx="276.68" cy="490.1" r="0.6"/>
</g>
<path d="M44.5 489.45H343.5" stroke="#10f010" stroke-width="1.25"/>
<path d="M44.5 491H343.5" stroke="#858585" stroke-width="0.9"/>
<path d="M277.25 414.3V491" stroke="#f01010" stroke-width="1.05"/>
<path d="M279.25 480.65L281.15 483.25L279.25 485.85L277.35 483.25Z" fill="#0a0af0"/>
<path d="M281.5 459.65L283.4 462.25L281.5 464.85L279.6 462.25Z" fill="#0a0af0"/>
<path d="M283.5 474.9L285.4 477.5L283.5 480.1L281.6 477.5Z" fill="#0a0af0"/>
<path d="M285.5 453.65L287.4 456.25L285.5 458.85L283.6 456.25Z" fill="#0a0af0"/>
<path d="M287.5 453.15L289.4 455.75L287.5 458.35L285.6 455.75Z" fill="#0a0af0"/>
<path d="M289.5 453.65L291.4 456.25L289.5 458.85L287.6 456.25Z" fill="#0a0af0"/>
<path d="M291.5 471.9L293.4 474.5L291.5 477.1L289.6 474.5Z" fill="#0a0af0"/>
<path d="M293.75 412.9L295.65 415.5L293.75 418.1L291.85 415.5Z" fill="#0a0af0"/>
<path d="M295.75 455.9L297.65 458.5L295.75 461.1L293.85 458.5Z" fill="#0a0af0"/>
<path d="M297.75 468.15L299.65 470.75L297.75 473.35L295.85 470.75Z" fill="#0a0af0"/>
<circle cx="299.75" cy="458.75" r="2.0" fill="#ffa31a"/>
<circle cx="301.75" cy="474.75" r="2.0" fill="#ffa31a"/>
<circle cx="304" cy="473.5" r="2.0" fill="#ffa31a"/>
<circle cx="306" cy="475.25" r="2.0" fill="#ffa31a"/>
<circle cx="308" cy="470.25" r="2.0" fill="#ffa31a"/>
<circle cx="310" cy="461.75" r="2.0" fill="#ffa31a"/>
<circle cx="312.25" cy="471.75" r="2.0" fill="#ffa31a"/>
<circle cx="314.25" cy="449.25" r="2.0" fill="#ffa31a"/>
<circle cx="316.25" cy="466.5" r="2.0" fill="#ffa31a"/>
<circle cx="318.5" cy="465.25" r="2.0" fill="#ffa31a"/>
<path d="M319.3 432.4L323.3 434.5L319.3 436.6Z" fill="#22aa22"/>
<path d="M321.3 467.9L325.3 470L321.3 472.1Z" fill="#22aa22"/>
<path d="M323.3 478.65L327.3 480.75L323.3 482.85Z" fill="#22aa22"/>
<path d="M325.3 455.4L329.3 457.5L325.3 459.6Z" fill="#22aa22"/>
<path d="M327.3 465.65L331.3 467.75L327.3 469.85Z" fill="#22aa22"/>
<path d="M329.55 416.15L333.55 418.25L329.55 420.35Z" fill="#22aa22"/>
<path d="M331.55 467.4L335.55 469.5L331.55 471.6Z" fill="#22aa22"/>
<path d="M333.55 462.9L337.55 465L333.55 467.1Z" fill="#22aa22"/>
<path d="M335.55 456.9L339.55 459L335.55 461.1Z" fill="#22aa22"/>
<path d="M337.55 437.4L341.55 439.5L337.55 441.6Z" fill="#22aa22"/>
<path d="M52 485.25L74.25 472.75" stroke="#222" stroke-width="0.7" marker-end="url(#ah)"/>
<rect x="85.8" y="418.7" width="154.4" height="61.9" fill="#fff" stroke="#858585" stroke-width="0.9"/>
<text x="82.8" y="481.5" font-size="5.6" text-anchor="end">0</text>
<path d="M85.8 462.7h2M240.2 462.7h-2" stroke="#4a4a4a" stroke-width="0.7"/>
<text x="82.8" y="463" font-size="5.6" text-anchor="end">5</text>
<path d="M85.8 444.2h2M240.2 444.2h-2" stroke="#4a4a4a" stroke-width="0.7"/>
<text x="82.8" y="444.5" font-size="5.6" text-anchor="end">10</text>
<path d="M85.8 425.7h2M240.2 425.7h-2" stroke="#4a4a4a" stroke-width="0.7"/>
<text x="82.8" y="426" font-size="5.6" text-anchor="end">15</text>
<text x="85.7" y="487.1" font-size="5.6" text-anchor="middle">0</text>
<path d="M112.66 418.7v1.8M112.66 480.6v-1.8" stroke="#4a4a4a" stroke-width="0.7"/>
<text x="112.66" y="487.1" font-size="5.6" text-anchor="middle">20</text>
<path d="M139.62 418.7v1.8M139.62 480.6v-1.8" stroke="#4a4a4a" stroke-width="0.7"/>
<text x="139.62" y="487.1" font-size="5.6" text-anchor="middle">40</text>
<path d="M166.58 418.7v1.8M166.58 480.6v-1.8" stroke="#4a4a4a" stroke-width="0.7"/>
<text x="166.58" y="487.1" font-size="5.6" text-anchor="middle">60</text>
<path d="M193.54 418.7v1.8M193.54 480.6v-1.8" stroke="#4a4a4a" stroke-width="0.7"/>
<text x="193.54" y="487.1" font-size="5.6" text-anchor="middle">80</text>
<path d="M220.5 418.7v1.8M220.5 480.6v-1.8" stroke="#4a4a4a" stroke-width="0.7"/>
<text x="220.5" y="487.1" font-size="5.6" text-anchor="middle">100</text>
<path d="M85.8 432.7H240.2" stroke="#10f010" stroke-width="1.3"/>
<g fill="#111">
<circle cx="87.65" cy="444.2" r="1.5"/>
<circle cx="89" cy="448.27" r="1.5"/>
<circle cx="90.35" cy="444.2" r="1.5"/>
<circle cx="91.7" cy="443.09" r="1.5"/>
<circle cx="93.05" cy="442.72" r="1.5"/>
<circle cx="94.39" cy="442.72" r="1.5"/>
<circle cx="95.74" cy="443.09" r="1.5"/>
<circle cx="97.09" cy="443.83" r="1.5"/>
<circle cx="98.44" cy="454.93" r="1.5"/>
<circle cx="99.79" cy="454.93" r="1.5"/>
<circle cx="101.13" cy="454.93" r="1.5"/>
<circle cx="102.48" cy="454.93" r="1.5"/>
<circle cx="103.83" cy="454.93" r="1.5"/>
<circle cx="105.18" cy="454.93" r="1.5"/>
<circle cx="106.53" cy="454.93" r="1.5"/>
<circle cx="107.87" cy="454.93" r="1.5"/>
<circle cx="109.22" cy="446.42" r="1.5"/>
<circle cx="110.57" cy="444.57" r="1.5"/>
<circle cx="111.92" cy="446.42" r="1.5"/>
<circle cx="113.27" cy="447.9" r="1.5"/>
<circle cx="114.61" cy="457.89" r="1.5"/>
<circle cx="115.96" cy="461.59" r="1.5"/>
<circle cx="117.31" cy="455.67" r="1.5"/>
<circle cx="118.66" cy="456.41" r="1.5"/>
<circle cx="120.01" cy="458.26" r="1.5"/>
<circle cx="121.35" cy="461.59" r="1.5"/>
<circle cx="122.7" cy="455.67" r="1.5"/>
<circle cx="124.05" cy="456.41" r="1.5"/>
<circle cx="125.4" cy="442.35" r="1.5"/>
<circle cx="126.75" cy="442.72" r="1.5"/>
<circle cx="128.09" cy="444.57" r="1.5"/>
<circle cx="129.44" cy="442.72" r="1.5"/>
<circle cx="130.79" cy="442.35" r="1.5"/>
<circle cx="132.14" cy="442.35" r="1.5"/>
<circle cx="133.49" cy="442.35" r="1.5"/>
<circle cx="134.83" cy="442.35" r="1.5"/>
<circle cx="136.18" cy="453.08" r="1.5"/>
<circle cx="137.53" cy="451.97" r="1.5"/>
<circle cx="138.88" cy="449.01" r="1.5"/>
<circle cx="140.23" cy="459.37" r="1.5"/>
<circle cx="141.57" cy="444.57" r="1.5"/>
<circle cx="142.92" cy="442.72" r="1.5"/>
<circle cx="144.27" cy="447.16" r="1.5"/>
<circle cx="145.62" cy="442.72" r="1.5"/>
<circle cx="146.97" cy="443.83" r="1.5"/>
<circle cx="148.31" cy="442.35" r="1.5"/>
<circle cx="149.66" cy="442.72" r="1.5"/>
<circle cx="151.01" cy="442.35" r="1.5"/>
<circle cx="152.36" cy="442.72" r="1.5"/>
<circle cx="153.71" cy="442.35" r="1.5"/>
<circle cx="155.05" cy="442.72" r="1.5"/>
<circle cx="156.4" cy="442.35" r="1.5"/>
<circle cx="157.75" cy="442.72" r="1.5"/>
<circle cx="159.1" cy="442.35" r="1.5"/>
<circle cx="160.45" cy="442.72" r="1.5"/>
<circle cx="161.79" cy="442.72" r="1.5"/>
<circle cx="163.14" cy="444.57" r="1.5"/>
<circle cx="164.49" cy="447.16" r="1.5"/>
<circle cx="165.84" cy="445.31" r="1.5"/>
<circle cx="167.19" cy="442.72" r="1.5"/>
<circle cx="168.53" cy="442.35" r="1.5"/>
<circle cx="169.88" cy="442.35" r="1.5"/>
<circle cx="171.23" cy="442.35" r="1.5"/>
<circle cx="172.58" cy="443.46" r="1.5"/>
<circle cx="173.93" cy="442.35" r="1.5"/>
<circle cx="175.27" cy="443.83" r="1.5"/>
<circle cx="176.62" cy="442.35" r="1.5"/>
<circle cx="177.97" cy="442.72" r="1.5"/>
<circle cx="179.32" cy="445.31" r="1.5"/>
<circle cx="180.67" cy="442.35" r="1.5"/>
<circle cx="182.01" cy="442.35" r="1.5"/>
<circle cx="183.36" cy="442.35" r="1.5"/>
<circle cx="184.71" cy="442.35" r="1.5"/>
<circle cx="186.06" cy="446.42" r="1.5"/>
<circle cx="187.41" cy="449.01" r="1.5"/>
<circle cx="188.75" cy="450.49" r="1.5"/>
<circle cx="190.1" cy="444.57" r="1.5"/>
<circle cx="191.45" cy="444.2" r="1.5"/>
<circle cx="192.8" cy="443.46" r="1.5"/>
<circle cx="194.15" cy="442.35" r="1.5"/>
<circle cx="195.49" cy="442.35" r="1.5"/>
<circle cx="196.84" cy="442.72" r="1.5"/>
<circle cx="198.19" cy="442.35" r="1.5"/>
<circle cx="199.54" cy="442.72" r="1.5"/>
<circle cx="200.89" cy="442.35" r="1.5"/>
<circle cx="202.23" cy="442.72" r="1.5"/>
<circle cx="203.58" cy="442.35" r="1.5"/>
<circle cx="204.93" cy="442.72" r="1.5"/>
<circle cx="206.28" cy="442.35" r="1.5"/>
<circle cx="207.63" cy="442.72" r="1.5"/>
<circle cx="208.97" cy="442.35" r="1.5"/>
<circle cx="210.32" cy="442.72" r="1.5"/>
<circle cx="211.67" cy="442.35" r="1.5"/>
<circle cx="213.02" cy="453.08" r="1.5"/>
<circle cx="214.37" cy="446.42" r="1.5"/>
<circle cx="215.71" cy="444.57" r="1.5"/>
<circle cx="217.06" cy="447.16" r="1.5"/>
<circle cx="218.41" cy="449.01" r="1.5"/>
<circle cx="219.76" cy="444.2" r="1.5"/>
<circle cx="221.11" cy="442.72" r="1.5"/>
<circle cx="222.45" cy="444.94" r="1.5"/>
<circle cx="223.8" cy="442.72" r="1.5"/>
<circle cx="225.15" cy="442.35" r="1.5"/>
<circle cx="226.5" cy="444.2" r="1.5"/>
<circle cx="227.85" cy="442.35" r="1.5"/>
<circle cx="229.19" cy="443.09" r="1.5"/>
<circle cx="230.54" cy="442.35" r="1.5"/>
<circle cx="231.89" cy="443.09" r="1.5"/>
<circle cx="233.24" cy="442.35" r="1.5"/>
<circle cx="234.59" cy="443.09" r="1.5"/>
<circle cx="235.93" cy="442.35" r="1.5"/>
<circle cx="237.28" cy="443.09" r="1.5"/>
<circle cx="238.63" cy="442.35" r="1.5"/>
</g>
<path d="M239.15 418.7V480.6" stroke="#f63a3a" stroke-width="2.2"/>
<text x="192.75" y="513.3" font-size="6.6" text-anchor="middle">(d)</text>
</g>
<text x="191.75" y="523.9" font-size="6.85" text-anchor="middle" style="white-space:pre">Number of  train passages</text>
<g id="legend">
<circle cx="57.5" cy="542.4" r="1.3" fill="#111"/>
<text x="72.5" y="544.8" font-size="7">Baseline</text>
<path d="M128.25 539.8L130.15 542.4L128.25 545L126.35 542.4Z" fill="#0a0af0"/>
<text x="144" y="544.8" font-size="7">Damage-1</text>
<circle cx="206" cy="542.4" r="2.0" fill="#ffa31a"/>
<text x="222.25" y="544.8" font-size="7">Damage-2</text>
<path d="M283.55 540.3L287.55 542.4L283.55 544.5Z" fill="#22aa22"/>
<text x="301" y="544.8" font-size="7">Damage-3</text>
</g>
</g>
</svg></body></html>
